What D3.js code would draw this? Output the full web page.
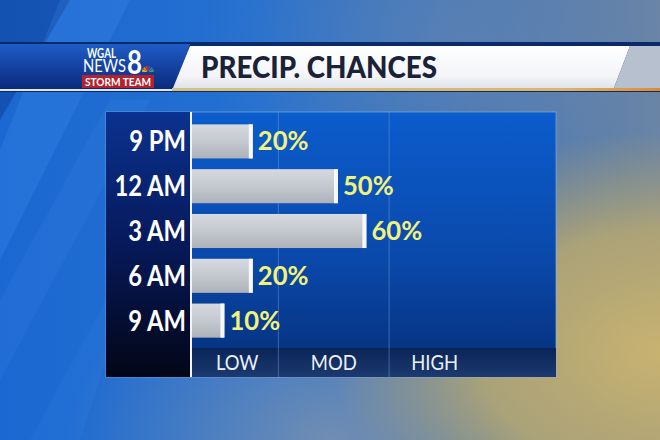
<!DOCTYPE html>
<html>
<head>
<meta charset="utf-8">
<script src="https://cdn.jsdelivr.net/npm/d3@7"></script>
<style>
  html, body { margin: 0; padding: 0; background: #1b5fc0; }
  svg { display: block; }
</style>
</head>
<body>
<div id="chart"></div>
<script>
const times = ["9 PM", "12 AM", "3 AM", "6 AM", "9 AM"];
const chances = [20, 50, 60, 20, 10];
const tiers = ["LOW", "MOD", "HIGH"];
const tierBreaks = [0, 29, 68, 100];
const title = "PRECIP. CHANCES";

const W = 660, H = 440;
const panel = { left: 106, right: 556, top: 112, bottom: 377, labelCol: 190, strip: 348 };

const svg = d3.select("#chart").append("svg")
  .attr("width", W)
  .attr("height", H);

const defs = svg.append("defs");

function linGrad(id, x1, y1, x2, y2, stops) {
  const g = defs.append("linearGradient").attr("id", id)
    .attr("x1", x1).attr("y1", y1).attr("x2", x2).attr("y2", y2);
  stops.forEach(s => g.append("stop").attr("offset", s[0]).attr("stop-color", s[1])
    .attr("stop-opacity", s[2] == null ? 1 : s[2]));
}
function radGrad(id, cx, cy, r, stops) {
  const g = defs.append("radialGradient").attr("id", id)
    .attr("cx", cx).attr("cy", cy).attr("r", r);
  stops.forEach(s => g.append("stop").attr("offset", s[0]).attr("stop-color", s[1])
    .attr("stop-opacity", s[2] == null ? 1 : s[2]));
}

linGrad("bg", "0", "0", "1", "0", [[0, "#1b68d2"], [0.4, "#2470d0"], [0.75, "#4a78b0"], [1, "#6a84a4"]]);
radGrad("gold", "1", "0.8", "0.5", [[0, "#c8b270", 1], [0.55, "#b8a870", 0.85], [1, "#b0a070", 0]]);
radGrad("haze", "0.5", "1", "0.4", [[0, "#7890b0", 0.9], [1, "#7890b0", 0]]);
radGrad("cloud", "0.7", "0.1", "0.4", [[0, "#6a88b4", 0.55], [1, "#6a88b4", 0]]);
linGrad("plot", "0", "0", "0", "1", [[0, "#0b5ccc"], [0.55, "#0a49ab"], [1, "#062e78"]]);
linGrad("labcol", "0", "0", "0", "1", [[0, "#0b3290"], [0.5, "#07195a"], [1, "#020616"]]);
linGrad("strip", "0", "0", "0", "1", [[0, "#0a2458"], [1, "#1c3a70"]]);
linGrad("bar", "0", "0", "0", "1", [[0, "#d6d9df"], [0.5, "#c4c8cf"], [1, "#adb2ba"]]);
linGrad("logo", "0", "0", "0", "1", [[0, "#1e5cc6"], [0.6, "#123d9a"], [1, "#0b2a78"]]);
linGrad("titlebar", "0", "0", "0", "1", [[0, "#ffffff"], [0.7, "#f3f5f8"], [1, "#e0e4ea"]]);
linGrad("underline", "0", "0", "1", "0", [[0, "#d6c384"], [0.8, "#ddb468"], [1, "#e08a30"]]);

// ---- background ----
svg.append("rect").attr("width", W).attr("height", H).attr("fill", "url(#bg)");
svg.append("rect").attr("width", W).attr("height", H).attr("fill", "url(#cloud)");
svg.append("rect").attr("width", W).attr("height", H).attr("fill", "url(#haze)");
svg.append("rect").attr("width", W).attr("height", H).attr("fill", "url(#gold)");

// diagonal streaks on the left
const streaks = [
  [[0, 0], [70, 0], [0, 120]],
  [[0, 150], [60, 0], [130, 0], [0, 260]],
  [[0, 300], [110, 100], [150, 100], [0, 380]],
  [[30, 440], [106, 300], [106, 360], [80, 440]]
];
svg.append("g").selectAll("path").data(streaks).join("path")
  .attr("d", d => "M" + d.join("L") + "Z")
  .attr("fill", (d, i) => i === 0 ? "#0a2a78" : "#5aa0ff")
  .attr("opacity", (d, i) => [0.35, 0.16, 0.1, 0.08][i]);

// ---- header ----
const head = svg.append("g");
head.append("rect").attr("x", 0).attr("y", 42).attr("width", W).attr("height", 50).attr("fill", "#0b2a6c");
head.append("path")
  .attr("d", "M0,44L190,44L173,90L0,90Z")
  .attr("fill", "url(#logo)");
head.append("path")
  .attr("d", "M190,46L630,46L614,88L173,88Z")
  .attr("fill", "url(#titlebar)");
head.append("path")
  .attr("d", "M630,46L660,46L660,88L614,88Z")
  .attr("fill", "#c9d0da").attr("opacity", 0.9);
head.append("rect").attr("x", 0).attr("y", 89).attr("width", 172).attr("height", 2).attr("fill", "#dfe6f2");
head.append("rect").attr("x", 172).attr("y", 88).attr("width", W - 172).attr("height", 3).attr("fill", "url(#underline)");

head.append("text")
  .attr("x", 201).attr("y", 78)
  .attr("font-family", "Lato, sans-serif")
  .attr("font-weight", 900)
  .attr("font-size", 31)
  .attr("textLength", 236)
  .attr("lengthAdjust", "spacingAndGlyphs")
  .attr("fill", "#1b2238")
  .text(title);

// logo
const logo = head.append("g");
logo.append("text").attr("x", 87).attr("y", 58)
  .attr("font-family", "Lato, sans-serif").attr("font-weight", 700)
  .attr("font-size", 14).attr("textLength", 29).attr("lengthAdjust", "spacingAndGlyphs")
  .attr("fill", "#fff").text("WGAL");
logo.append("text").attr("x", 83).attr("y", 72)
  .attr("font-family", "Lato, sans-serif").attr("font-weight", 400)
  .attr("font-size", 17).attr("textLength", 43).attr("lengthAdjust", "spacingAndGlyphs")
  .attr("fill", "#fff").text("NEWS");
logo.append("text").attr("x", 127).attr("y", 74)
  .attr("font-family", "Lato, sans-serif").attr("font-weight", 700)
  .attr("font-size", 33).attr("textLength", 15).attr("lengthAdjust", "spacingAndGlyphs")
  .attr("fill", "#fff").text("8");
const peacock = ["#f5c400", "#f08a00", "#e8262d", "#6d3a96", "#1d7ad0", "#40b050"];
const fan = d3.arc().innerRadius(1).outerRadius(6);
logo.append("g").attr("transform", "translate(148,72)")
  .selectAll("path").data(peacock).join("path")
  .attr("d", (d, i) => fan({ startAngle: -Math.PI / 2 + i * Math.PI / 6 + 0.05, endAngle: -Math.PI / 2 + (i + 1) * Math.PI / 6 - 0.05 }))
  .attr("fill", d => d);
logo.append("rect").attr("x", 82).attr("y", 75).attr("width", 72).attr("height", 13).attr("fill", "#b3222e");
logo.append("text").attr("x", 85).attr("y", 86)
  .attr("font-family", "Lato, sans-serif").attr("font-weight", 700)
  .attr("font-size", 12).attr("textLength", 66).attr("lengthAdjust", "spacingAndGlyphs")
  .attr("fill", "#fff").text("STORM TEAM");

// ---- chart panel ----
const x = d3.scaleLinear().domain([0, 100]).range([196, 480]);
const y = d3.scaleBand().domain(times).range([119, 343]).paddingInner(0.24).paddingOuter(0.12);

const g = svg.append("g");
g.append("rect")
  .attr("x", panel.left).attr("y", panel.top)
  .attr("width", panel.right - panel.left).attr("height", panel.bottom - panel.top)
  .attr("fill", "url(#plot)")
  .attr("stroke", "#8fb4e6").attr("stroke-opacity", 0.6).attr("stroke-width", 1);
g.append("rect")
  .attr("x", panel.labelCol).attr("y", panel.strip)
  .attr("width", panel.right - panel.labelCol).attr("height", panel.bottom - panel.strip)
  .attr("fill", "url(#strip)");
g.append("rect")
  .attr("x", panel.left).attr("y", panel.top)
  .attr("width", panel.labelCol - panel.left).attr("height", panel.bottom - panel.top)
  .attr("fill", "url(#labcol)");

// tier separators
g.selectAll(".grid").data(tierBreaks.slice(1, -1)).join("line")
  .attr("class", "grid")
  .attr("x1", d => x(d)).attr("x2", d => x(d))
  .attr("y1", panel.top).attr("y2", panel.bottom)
  .attr("stroke", "#6f9ad8").attr("stroke-opacity", 0.5).attr("stroke-width", 1);

// white axis line
g.append("rect").attr("x", panel.labelCol).attr("y", panel.top)
  .attr("width", 2).attr("height", panel.bottom - panel.top).attr("fill", "#f2f5fa");

// tier labels
g.selectAll(".tier").data(tiers).join("text")
  .attr("class", "tier")
  .attr("transform", (d, i) => `translate(${(x(tierBreaks[i]) + x(tierBreaks[i + 1])) / 2},370) scale(0.88,1)`)
  .attr("text-anchor", "middle")
  .attr("font-family", "Lato, sans-serif")
  .attr("font-weight", 400)
  .attr("font-size", 21)
  .attr("fill", "#eef2f8")
  .text(d => d);

// bars
const rows = g.selectAll(".row").data(times).join("g").attr("class", "row");
rows.append("rect")
  .attr("x", 192)
  .attr("y", d => y(d))
  .attr("width", (d, i) => x(chances[i]) - 192)
  .attr("height", y.bandwidth())
  .attr("fill", "url(#bar)");
rows.append("rect")
  .attr("x", (d, i) => x(chances[i]) - 4)
  .attr("y", d => y(d))
  .attr("width", 4)
  .attr("height", y.bandwidth())
  .attr("fill", "#f7f8fa");

rows.append("text")
  .attr("transform", d => `translate(186,${y(d) + y.bandwidth() / 2 + 10}) scale(0.85,1)`)
  .attr("text-anchor", "end")
  .attr("font-family", "Lato, sans-serif")
  .attr("font-weight", 700)
  .attr("font-size", 28)
  .attr("fill", "#ffffff")
  .text(d => d);

rows.append("text")
  .attr("transform", (d, i) => `translate(${x(chances[i]) + 5},${y(d) + y.bandwidth() / 2 + 9}) scale(0.95,1)`)
  .attr("font-family", "Lato, sans-serif")
  .attr("font-weight", 700)
  .attr("font-size", 27)
  .attr("fill", "#f1f17c")
  .text((d, i) => chances[i] + "%");
</script>
</body>
</html>
